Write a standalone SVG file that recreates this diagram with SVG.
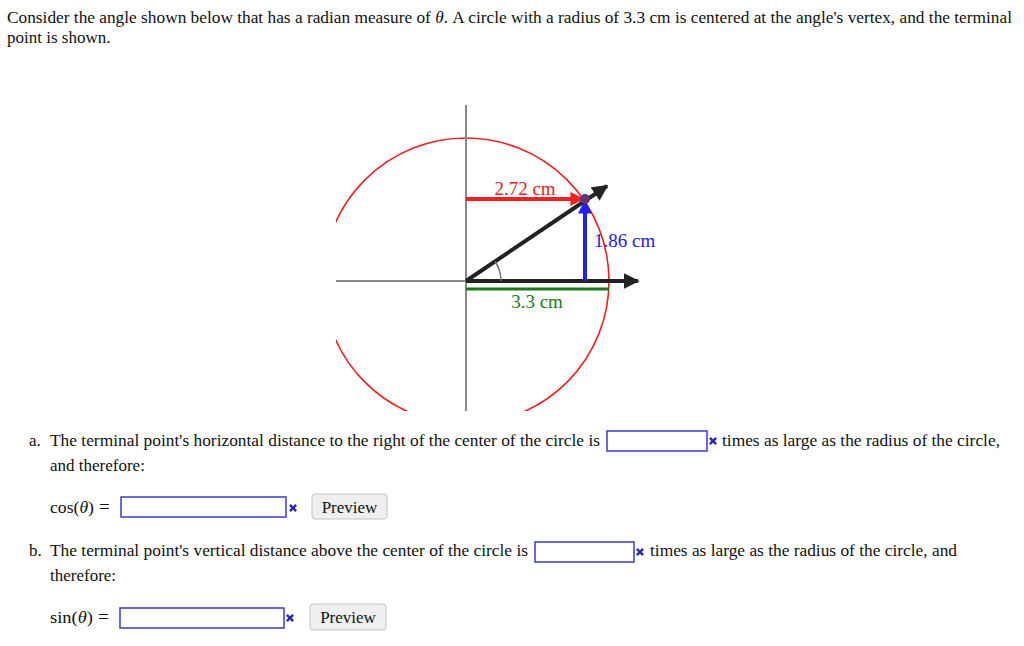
<svg xmlns="http://www.w3.org/2000/svg" width="1024" height="646" viewBox="0 0 1024 646" font-family="Liberation Serif, Times New Roman, serif">
<style>
text{font-family:"Liberation Serif","Times New Roman",serif;font-size:17px;fill:#111}
.lbl{font-size:19px}
.box{fill:#fff;stroke:#3a3ad0;stroke-width:1.5}
.btn{fill:#efefef;stroke:#c4c4c4;stroke-width:1}
</style>
<defs>
<clipPath id="clip"><rect x="336" y="104" width="320" height="307"/></clipPath>
<marker id="ab" viewBox="0 0 10 10" refX="9" refY="5" markerWidth="4" markerHeight="4" orient="auto" markerUnits="strokeWidth"><path d="M0,0L10,5L0,10z" fill="#222"/></marker>
<marker id="ar" viewBox="0 0 10 10" refX="9" refY="5" markerWidth="3.5" markerHeight="3.5" orient="auto" markerUnits="strokeWidth"><path d="M0,0L10,5L0,10z" fill="#ee2222"/></marker>
<marker id="abl" viewBox="0 0 10 10" refX="9" refY="5" markerWidth="3.5" markerHeight="3.5" orient="auto" markerUnits="strokeWidth"><path d="M0,0L10,5L0,10z" fill="#2222ee"/></marker>
<path id="xicon" d="M-4,-2.2L-2.2,-4L0,-1.8L2.2,-4L4,-2.2L1.8,0L4,2.2L2.2,4L0,1.8L-2.2,4L-4,2.2L-1.8,0z" fill="#2a2ab8"/>
</defs>

<g id="intro">
<text x="7" y="23" textLength="1005" lengthAdjust="spacingAndGlyphs">Consider the angle shown below that has a radian measure of <tspan font-style="italic">θ</tspan>. A circle with a radius of 3.3 cm is centered at the angle's vertex, and the terminal</text>
<text x="7" y="43">point is shown.</text>
</g>

<g id="diagram">
<g id="circle"><circle cx="466" cy="281" r="143" fill="none" stroke="#ee2222" stroke-width="1.6" clip-path="url(#clip)"/></g>
<g id="axes">
<line x1="466" y1="105" x2="466" y2="411" stroke="#888" stroke-width="2"/>
<line x1="336" y1="281" x2="466" y2="281" stroke="#888" stroke-width="2"/>
</g>
<g id="connectors">
<line x1="466" y1="281" x2="638" y2="281" stroke="#222" stroke-width="4" marker-end="url(#ab)"/>
<line x1="466" y1="281" x2="607" y2="186" stroke="#222" stroke-width="4" marker-end="url(#ab)"/>
<path d="M501,281A35,35 0 0 0 495,261.5" fill="none" stroke="#777" stroke-width="1.5"/>
<line x1="466" y1="289" x2="609" y2="289" stroke="#1a7a1a" stroke-width="3"/>
<line x1="466" y1="199" x2="583" y2="199" stroke="#ee2222" stroke-width="4" marker-end="url(#ar)"/>
<line x1="585" y1="281" x2="585" y2="201" stroke="#2222ee" stroke-width="4" marker-end="url(#abl)"/>
</g>
<g id="point"><circle cx="585" cy="199" r="5" fill="#663377"/></g>
<g id="labels">
<text class="lbl" x="525" y="195" text-anchor="middle" style="fill:#dd2222">2.72 cm</text>
<text class="lbl" x="594" y="247" style="fill:#2222dd">1.86 cm</text>
<text class="lbl" x="537" y="308" text-anchor="middle" style="fill:#1a7a1a">3.3 cm</text>
</g>
</g>

<g id="partA">
<text x="29" y="446">a.</text>
<text x="50" y="446" textLength="550" lengthAdjust="spacingAndGlyphs">The terminal point's horizontal distance to the right of the center of the circle is</text>
<rect class="box" x="607" y="431" width="100" height="20"/>
<use href="#xicon" x="713" y="441"/>
<text x="722" y="446" textLength="278" lengthAdjust="spacingAndGlyphs">times as large as the radius of the circle,</text>
<text x="50" y="471">and therefore:</text>
<text x="50" y="513" textLength="44" lengthAdjust="spacingAndGlyphs">cos(<tspan font-style="italic">θ</tspan>)</text>
<text x="99" y="513" font-size="19" style="font-size:19px">=</text>
<rect class="box" x="121" y="497" width="165" height="20"/>
<use href="#xicon" x="293" y="508"/>
<rect class="btn" x="312" y="494" width="75" height="25" rx="3"/>
<text x="349.5" y="513" text-anchor="middle">Preview</text>
</g>

<g id="partB">
<text x="29" y="556">b.</text>
<text x="50" y="556" textLength="478" lengthAdjust="spacingAndGlyphs">The terminal point's vertical distance above the center of the circle is</text>
<rect class="box" x="535" y="542" width="99" height="20"/>
<use href="#xicon" x="640" y="552"/>
<text x="650" y="556" textLength="307" lengthAdjust="spacingAndGlyphs">times as large as the radius of the circle, and</text>
<text x="50" y="581">therefore:</text>
<text x="50" y="623" textLength="43" lengthAdjust="spacingAndGlyphs">sin(<tspan font-style="italic">θ</tspan>)</text>
<text x="98" y="623" font-size="19" style="font-size:19px">=</text>
<rect class="box" x="120" y="608" width="164" height="20"/>
<use href="#xicon" x="290" y="618"/>
<rect class="btn" x="310" y="604" width="76" height="26" rx="3"/>
<text x="348" y="623" text-anchor="middle">Preview</text>
</g>
</svg>
